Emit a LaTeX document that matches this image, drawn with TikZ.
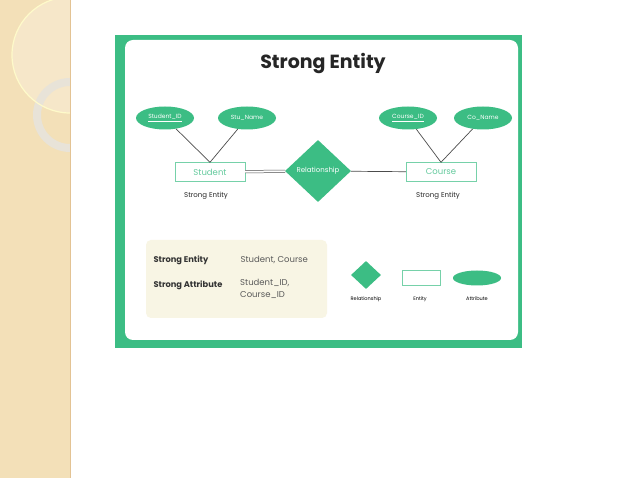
\documentclass[tikz,border=0pt]{standalone}
\usepackage{fontspec}
\setmainfont{Poppins}
\usetikzlibrary{shapes.geometric}
\definecolor{gr}{HTML}{3CBD84}
\definecolor{beige}{HTML}{F3E0B8}
\definecolor{cream}{HTML}{F8F5E4}
\definecolor{ring}{HTML}{E8E3D8}
\tikzset{attr/.style={ellipse,fill=gr,minimum width=58pt,minimum height=23pt,inner sep=0pt,text=white,font=\fontsize{6}{7}\selectfont},
ent/.style={draw=gr!70,fill=white,minimum width=70pt,minimum height=19pt,inner sep=0pt,text=gr!80,font=\fontsize{8.5}{9}\selectfont},
lbl/.style={font=\fontsize{7}{8}\selectfont,text=black!85},
conn/.style={draw=black!70,line width=0.7pt}}
\begin{document}
\begin{tikzpicture}[x=1pt,y=-1pt]
\useasboundingbox (0,0) rectangle (638,478);
\fill[white] (0,0) rectangle (638,478);
\fill[beige] (0,0) rectangle (70,478);
\fill[white,opacity=0.25] (70,55) circle (58);
\draw[ring,line width=8pt] (70,115) circle (33);
\draw[white!80!yellow!90!beige,line width=1.2pt] (70,55) circle (58);
\fill[white] (71,0) rectangle (638,478);
\draw[beige!70!brown,line width=0.6pt] (70.5,0) -- (70.5,478);
% frame
\fill[gr] (115,35) rectangle (522,348);
\fill[white,rounded corners=8pt] (125,40) rectangle (518,340);
\node[font=\bfseries\fontsize{19}{22}\selectfont,text=black!85] (title) at (323,64) {Strong Entity};
\node[attr] (sid) at (165,118) {\underline{Student\_ID}};
\node[attr] (sn) at (247,118) {Stu\_Name};
\node[attr] (cid) at (408,118) {\underline{Course\_ID}};
\node[attr] (cn) at (483,118) {Co\_Name};
\node[ent] (stu) at (210,172) {Student};
\node[ent] (crs) at (441,172) {Course};
\node[diamond,fill=gr,minimum width=66pt,minimum height=62pt,inner sep=0pt,text=white,font=\fontsize{7}{8}\selectfont] (rel) at (318,171) {Relationship};
\draw[conn] (sid) -- (stu.north); \draw[conn] (sn) -- (stu.north);
\draw[conn] (cid) -- (crs.north); \draw[conn] (cn) -- (crs.north);
\draw[conn,double distance=2pt,line width=0.5pt] (stu) -- (rel);
\draw[conn] (rel) -- (crs);
\node[lbl] (l1) at (206,196) {Strong Entity};
\node[lbl] (l2) at (438,196) {Strong Entity};
% legend
\fill[cream,rounded corners=5pt] (146,240) rectangle (327,318);
\begin{scope}[font=\fontsize{8.5}{12}\selectfont]
\node[anchor=west,font=\bfseries\fontsize{8.3}{9}\selectfont,text=black!80] (k1) at (150,260) {Strong Entity};
\node[anchor=west,text=black!65] (v1) at (237,260) {Student, Course};
\node[anchor=west,font=\bfseries\fontsize{8.3}{9}\selectfont,text=black!80] (k2) at (150,285) {Strong Attribute};
\node[anchor=north west,align=left,text=black!65,inner sep=0pt] (v2) at (240,279) {Student\_ID,\\Course\_ID};
\end{scope}
\node[diamond,fill=gr,minimum width=30pt,minimum height=28pt,inner sep=0pt] (d) at (366,275) {};
\node[draw=gr!70,minimum width=38pt,minimum height=15pt,inner sep=0pt] (r) at (421,278) {};
\node[ellipse,fill=gr,minimum width=48pt,minimum height=15pt,inner sep=0pt] (e) at (477,278) {};
\node[font=\fontsize{5}{6}\selectfont] (dl) at (366,299) {Relationship};
\node[font=\fontsize{5}{6}\selectfont] (rl) at (420,299) {Entity};
\node[font=\fontsize{5}{6}\selectfont] (el) at (477,299) {Attribute};
\end{tikzpicture}
\end{document}
